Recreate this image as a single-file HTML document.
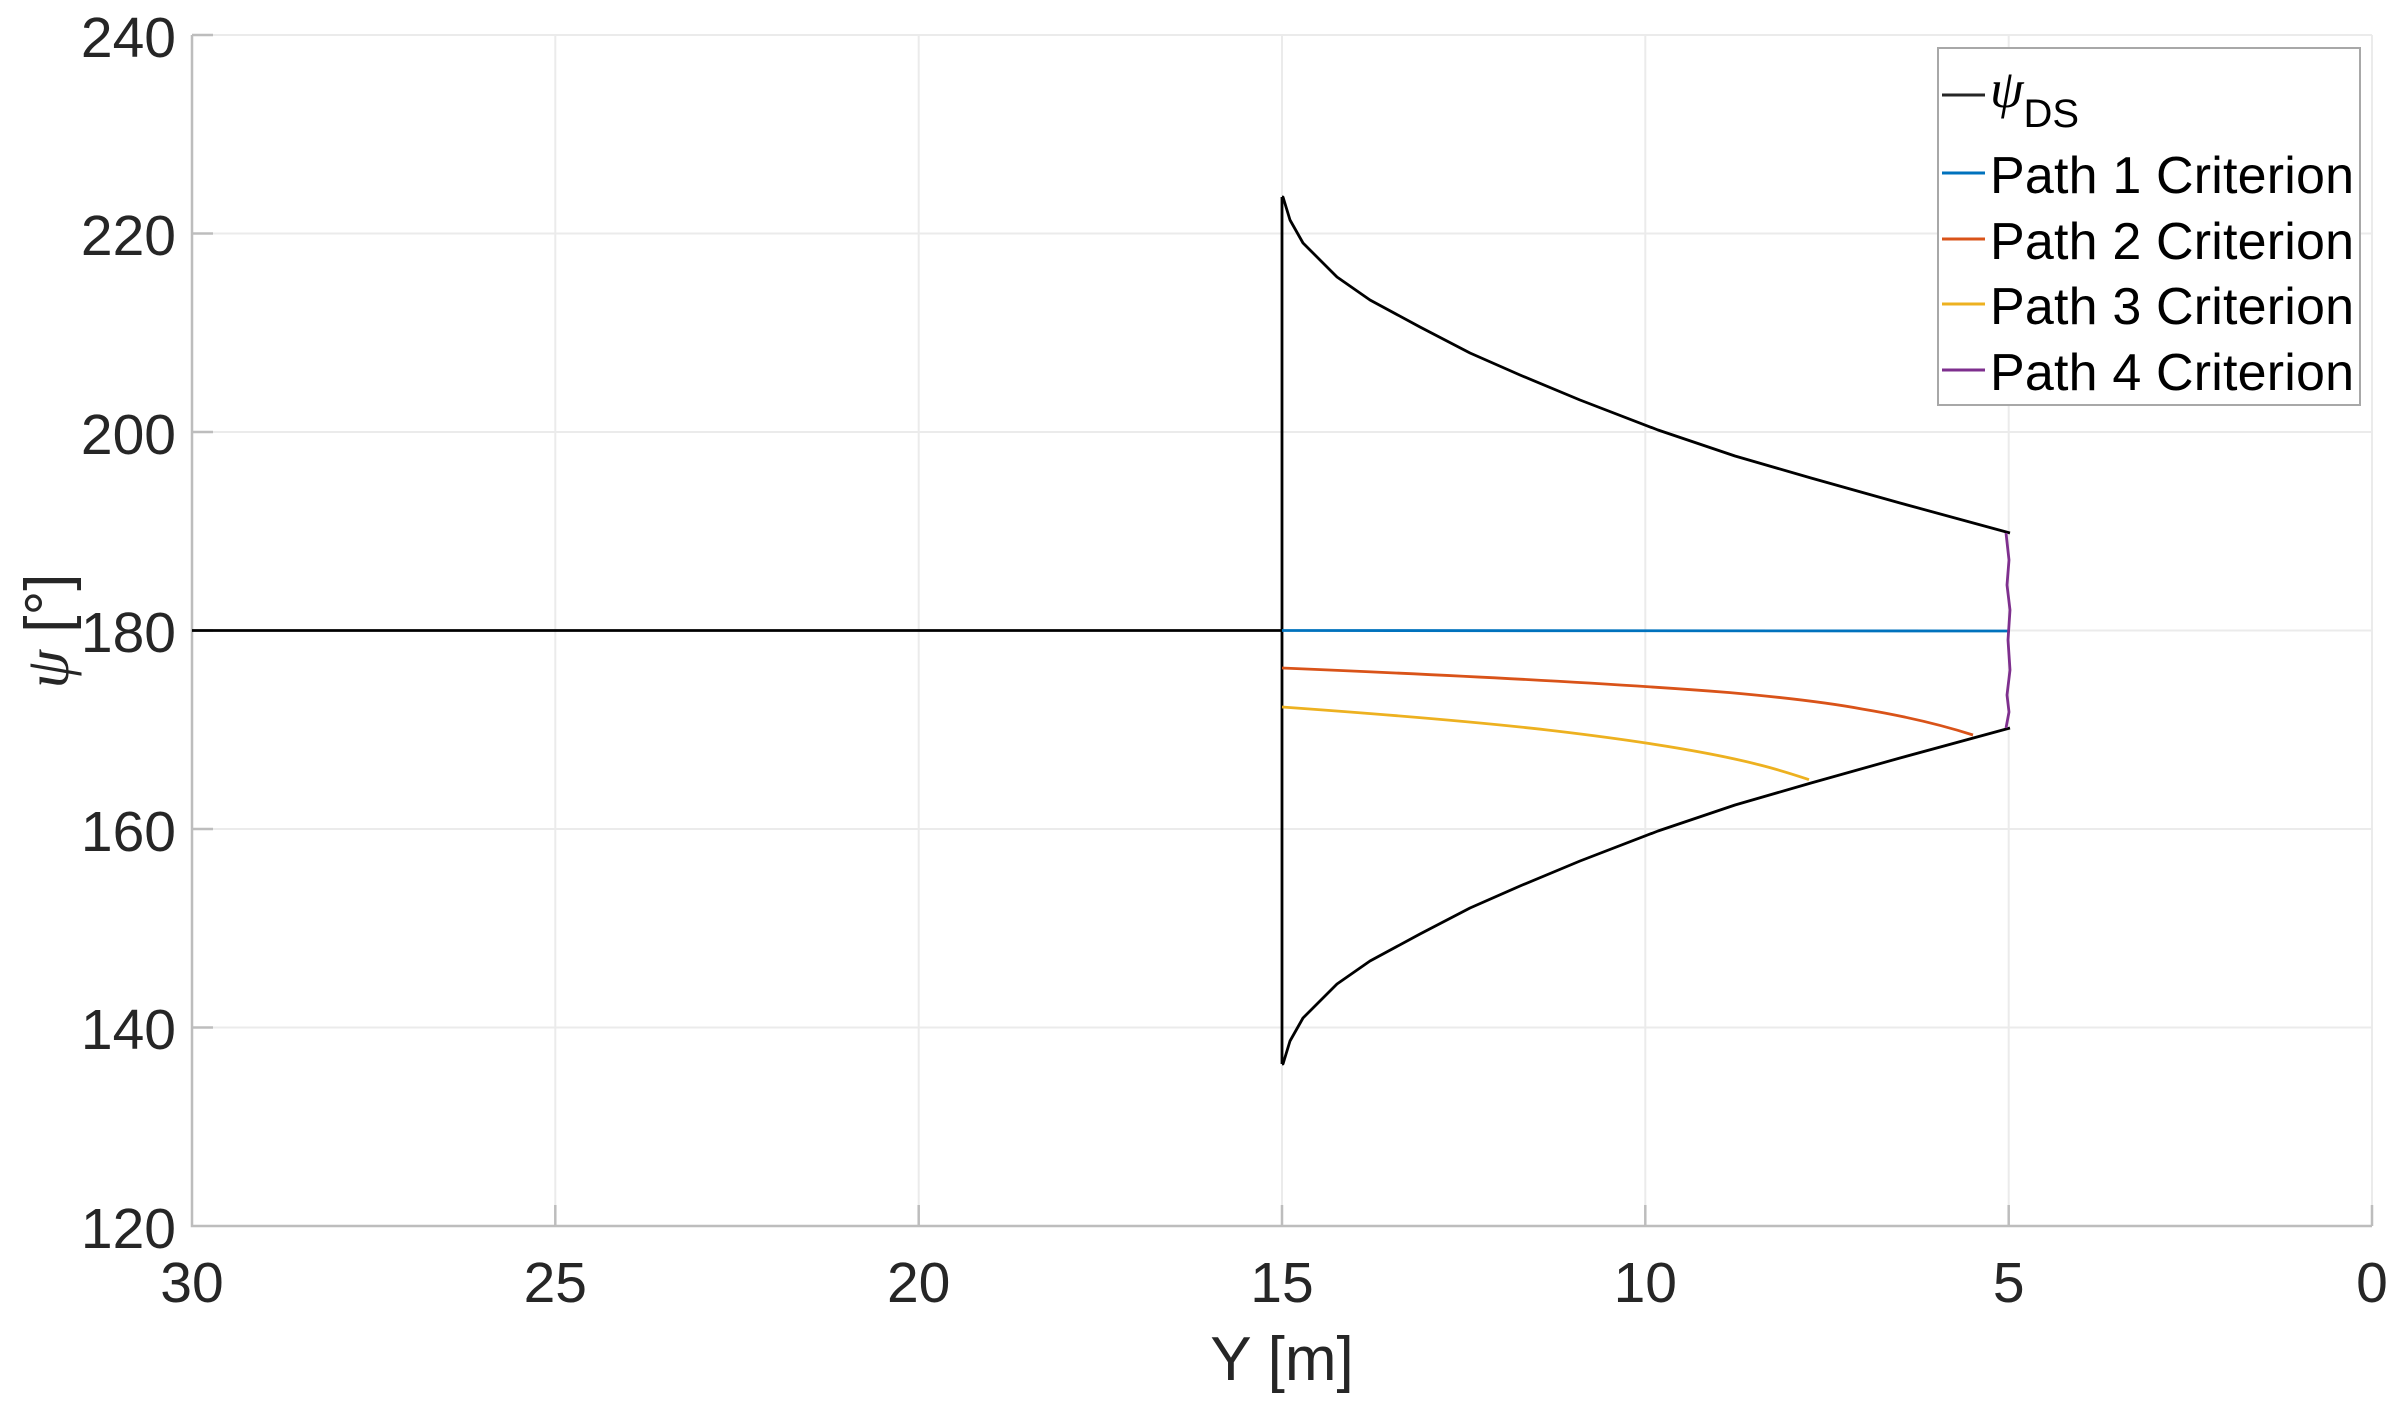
<!DOCTYPE html>
<html><head><meta charset="utf-8"><style>
html,body{margin:0;padding:0;background:#fff;}
svg{display:block;}
text{font-family:"Liberation Sans",sans-serif;fill:#262626;}
</style></head><body>
<svg width="2397" height="1410" viewBox="0 0 2397 1410" xmlns="http://www.w3.org/2000/svg">
<rect width="2397" height="1410" fill="#fff"/>
<g stroke="#ebebeb" stroke-width="2">
<line x1="555.3" y1="35" x2="555.3" y2="1226"/>
<line x1="918.7" y1="35" x2="918.7" y2="1226"/>
<line x1="1282" y1="35" x2="1282" y2="1226"/>
<line x1="1645.3" y1="35" x2="1645.3" y2="1226"/>
<line x1="2008.7" y1="35" x2="2008.7" y2="1226"/>
<line x1="192" y1="233.5" x2="2372" y2="233.5"/>
<line x1="192" y1="432" x2="2372" y2="432"/>
<line x1="192" y1="630.5" x2="2372" y2="630.5"/>
<line x1="192" y1="829" x2="2372" y2="829"/>
<line x1="192" y1="1027.5" x2="2372" y2="1027.5"/>
<line x1="192" y1="35" x2="2372" y2="35"/>
<line x1="2372" y1="35" x2="2372" y2="1226"/>
</g>
<g stroke="#bdbdbd" stroke-width="2.5" fill="none">
<polyline points="192,35 192,1226 2372,1226"/>
<line x1="192" y1="35" x2="213" y2="35"/><line x1="192" y1="233.5" x2="213" y2="233.5"/>
<line x1="192" y1="432" x2="213" y2="432"/><line x1="192" y1="630.5" x2="213" y2="630.5"/>
<line x1="192" y1="829" x2="213" y2="829"/><line x1="192" y1="1027.5" x2="213" y2="1027.5"/>
<line x1="555.3" y1="1226" x2="555.3" y2="1205"/><line x1="918.7" y1="1226" x2="918.7" y2="1205"/>
<line x1="1282" y1="1226" x2="1282" y2="1205"/><line x1="1645.3" y1="1226" x2="1645.3" y2="1205"/>
<line x1="2008.7" y1="1226" x2="2008.7" y2="1205"/><line x1="2372" y1="1226" x2="2372" y2="1205"/>
</g>
<g font-size="57" text-anchor="end">
<text x="176" y="57">240</text><text x="176" y="255">220</text><text x="176" y="454">200</text>
<text x="176" y="652">180</text><text x="176" y="851">160</text><text x="176" y="1049">140</text>
<text x="176" y="1248">120</text>
</g>
<g font-size="57" text-anchor="middle">
<text x="192" y="1302">30</text><text x="555.3" y="1302">25</text><text x="918.7" y="1302">20</text>
<text x="1282" y="1302">15</text><text x="1645.3" y="1302">10</text><text x="2008.7" y="1302">5</text>
<text x="2372" y="1302">0</text>
<text x="1282" y="1380" font-size="62">Y [m]</text>
</g>
<text transform="translate(68,631) rotate(-90)" text-anchor="middle" font-size="62"><tspan font-family="Liberation Serif" font-style="italic">ψ</tspan> [°]</text>
<g fill="none" stroke-width="2.8" stroke-linejoin="round">
<polyline stroke="#000" points="192,630.5 1282,630.5"/>
<polyline stroke="#000" points="1282,1064 1282,197"/>
<polyline stroke="#000" points="1282,197 1283,197 1290,220 1303,243 1337,277 1370,300 1420,327 1470,353 1520,375 1580,400 1658,430 1735,456 1811,478 1900,503 2010,533"/>
<polyline stroke="#000" points="1282,1064 1283,1064 1290,1041 1303,1018 1337,984 1370,961 1420,934 1470,908 1520,886 1580,861 1658,831 1735,805 1811,783 1900,758 2010,728"/>
<polyline stroke="#0072BD" points="1282,630.5 2010,631"/>
<path stroke="#D95319" d="M1282,668 C1450,675 1620,684 1730,692.6 C1790,698 1830,703 1862,709 C1910,717 1945,726 1973,735"/>
<path stroke="#EDB120" d="M1282,707 C1380,714 1480,722 1556,731 C1640,741 1710,752 1760,765 C1780,770 1795,775 1809,779.6"/>
<polyline stroke="#7E2F8E" points="2006,533 2009,560 2007,585 2010,610 2008,640 2010,670 2007,695 2009,712 2006,728"/>
</g>
<rect x="1938" y="48" width="422" height="357" fill="#fff" stroke="#a8a8a8" stroke-width="2"/>
<g stroke-width="3">
<line x1="1942" y1="95" x2="1985" y2="95" stroke="#262626"/>
<line x1="1942" y1="173" x2="1985" y2="173" stroke="#0072BD"/>
<line x1="1942" y1="239" x2="1985" y2="239" stroke="#D95319"/>
<line x1="1942" y1="304" x2="1985" y2="304" stroke="#EDB120"/>
<line x1="1942" y1="370" x2="1985" y2="370" stroke="#7E2F8E"/>
</g>
<g font-size="52">
<text x="1990" y="107" style="fill:#000"><tspan font-family="Liberation Serif" font-style="italic" font-size="54">ψ</tspan><tspan dy="20" font-size="40">DS</tspan></text>
<text x="1990" y="193" style="fill:#000" textLength="364">Path 1 Criterion</text>
<text x="1990" y="259" style="fill:#000" textLength="364">Path 2 Criterion</text>
<text x="1990" y="324" style="fill:#000" textLength="364">Path 3 Criterion</text>
<text x="1990" y="390" style="fill:#000" textLength="364">Path 4 Criterion</text>
</g>
</svg>
</body></html>
